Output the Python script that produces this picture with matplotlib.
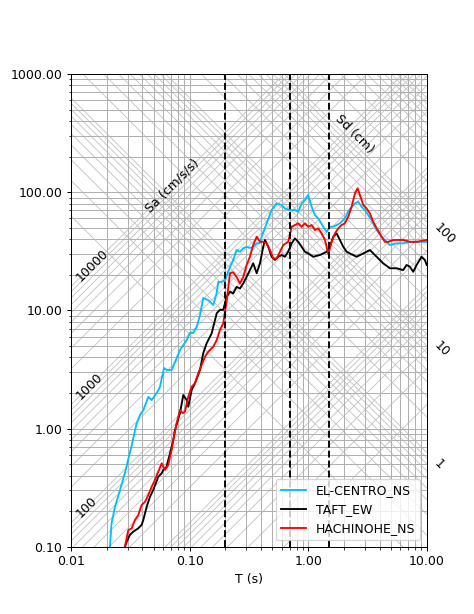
import numpy as np
import matplotlib.pyplot as plt
from matplotlib.ticker import FormatStrFormatter, NullFormatter

# pseudo-velocity response spectra, T (s) vs Sv (cm/s)
t_elcentro = [0.0213, 0.0220, 0.0235, 0.0259, 0.0285, 0.0303, 0.0325, 0.0358, 0.0382, 0.0407,
              0.0449, 0.0479, 0.0528, 0.0562, 0.0608, 0.0641, 0.0707, 0.0754, 0.0830, 0.0885,
              0.0946, 0.1007, 0.1074, 0.1148, 0.1225, 0.1303, 0.1439, 0.1585, 0.1694, 0.1746,
              0.1866, 0.1986, 0.2193, 0.2333, 0.2495, 0.2661, 0.2838, 0.3029, 0.3228, 0.3443,
              0.3681, 0.3926, 0.4055, 0.4467, 0.4920, 0.5420, 0.5980, 0.6370, 0.7031, 0.7740,
              0.8250, 0.8810, 0.9400, 1.002, 1.071, 1.141, 1.217, 1.341, 1.432, 1.527,
              1.629, 1.738, 1.854, 2.042, 2.179, 2.328, 2.483, 2.645, 2.825, 3.013,
              3.213, 3.430, 3.784, 4.170, 4.592, 4.898, 5.572, 6.339, 7.211, 8.222, 10.0]
sv_elcentro = [0.100, 0.159, 0.217, 0.302, 0.421, 0.542, 0.720, 1.11, 1.30, 1.43,
               1.85, 1.74, 2.00, 2.24, 3.25, 3.13, 3.13, 3.66, 4.62, 5.09,
               5.61, 6.43, 6.43, 7.23, 9.14, 12.7, 12.2, 11.1, 14.0, 17.4,
               17.4, 18.0, 23.2, 26.7, 32.4, 31.3, 33.5, 34.5, 33.7, 34.5,
               36.9, 37.2, 42.0, 54.5, 70.6, 80.4, 77.8, 72.9, 70.6, 70.6,
               68.3, 80.4, 85.7, 94.6, 75.2, 64.0, 60.0, 51.0, 46.2, 51.0,
               51.0, 52.7, 54.5, 60.0, 68.3, 75.2, 80.4, 83.0, 75.2, 70.6,
               64.0, 58.1, 47.8, 42.0, 38.0, 35.7, 36.9, 36.9, 38.0, 38.0, 38.0]

t_taft = [0.0285, 0.0295, 0.0314, 0.0335, 0.0369, 0.0394, 0.0407, 0.0435, 0.0464, 0.0494,
          0.0545, 0.0582, 0.0600, 0.0641, 0.0661, 0.0684, 0.0729, 0.0754, 0.0830, 0.0885,
          0.0946, 0.0975, 0.1042, 0.1110, 0.1225, 0.1303, 0.1393, 0.1535, 0.1694, 0.1803,
          0.1923, 0.2056, 0.2193, 0.2333, 0.2495, 0.2661, 0.2838, 0.3029, 0.3228, 0.3443,
          0.3681, 0.3926, 0.4181, 0.4325, 0.4608, 0.4920, 0.5248, 0.5598, 0.5980, 0.6370,
          0.6790, 0.7260, 0.7740, 0.8250, 0.8810, 0.9400, 1.002, 1.104, 1.257, 1.432,
          1.527, 1.629, 1.738, 1.854, 1.977, 2.113, 2.251, 2.566, 2.917, 3.319,
          3.784, 4.295, 4.898, 5.572, 6.339, 6.761, 7.211, 7.691, 8.222, 9.06, 9.66, 10.0]
sv_taft = [0.100, 0.110, 0.126, 0.134, 0.143, 0.153, 0.168, 0.218, 0.265, 0.302,
           0.391, 0.418, 0.446, 0.476, 0.542, 0.617, 0.800, 0.971, 1.35, 1.92,
           1.74, 1.53, 2.12, 2.41, 3.13, 4.33, 5.26, 6.38, 9.44, 10.1,
           10.1, 13.0, 14.4, 13.9, 15.8, 15.3, 16.9, 19.2, 21.9, 25.0,
           20.6, 25.0, 34.5, 39.4, 34.5, 28.4, 26.7, 28.4, 29.4, 28.4,
           31.3, 36.9, 40.6, 38.0, 34.5, 31.3, 30.3, 28.4, 29.4, 31.3,
           34.5, 42.0, 44.8, 39.4, 34.5, 31.3, 30.3, 28.4, 30.3, 32.4,
           28.4, 25.0, 22.7, 22.7, 21.9, 24.2, 23.4, 21.2, 24.2, 28.4, 26.7, 24.2]

t_hachinohe = [0.0285, 0.0304, 0.0325, 0.0346, 0.0369, 0.0394, 0.0421, 0.0449, 0.0479, 0.0510,
               0.0545, 0.0582, 0.0620, 0.0661, 0.0684, 0.0707, 0.0729, 0.0778, 0.0830, 0.0875,
               0.0914, 0.0975, 0.1042, 0.1110, 0.1183, 0.1264, 0.1349, 0.1439, 0.1585, 0.1694,
               0.1803, 0.1923, 0.2056, 0.2193, 0.2333, 0.2495, 0.2661, 0.2838, 0.3029, 0.3228,
               0.3443, 0.3681, 0.3926, 0.4181, 0.4467, 0.4764, 0.5082, 0.5420, 0.5781, 0.6166,
               0.6790, 0.7260, 0.7740, 0.8250, 0.8810, 0.9400, 1.002, 1.071, 1.141, 1.217,
               1.300, 1.386, 1.479, 1.578, 1.683, 1.795, 1.915, 2.042, 2.179, 2.328,
               2.483, 2.614, 2.735, 2.917, 3.112, 3.319, 3.540, 3.784, 4.170, 4.440,
               4.740, 5.224, 5.750, 6.339, 7.211, 8.222, 10.0]
sv_hachinohe = [0.100, 0.138, 0.143, 0.168, 0.185, 0.225, 0.240, 0.274, 0.322, 0.366,
                0.432, 0.508, 0.446, 0.491, 0.577, 0.658, 0.800, 1.11, 1.43, 1.35,
                1.39, 1.86, 2.26, 2.41, 2.93, 3.44, 4.05, 4.46, 4.92, 5.61,
                6.81, 7.76, 12.0, 20.6, 21.0, 19.1, 16.9, 19.2, 24.2, 28.4,
                35.7, 42.0, 38.0, 38.0, 36.9, 32.4, 27.5, 27.5, 31.3, 35.7,
                38.0, 51.0, 52.7, 54.5, 51.0, 54.5, 51.0, 52.7, 47.8, 49.4,
                44.8, 39.4, 30.0, 38.0, 44.8, 49.4, 52.7, 54.5, 61.9, 75.2,
                97.7, 108.0, 94.6, 77.8, 72.9, 66.2, 56.2, 49.4, 42.0, 38.0,
                38.0, 39.4, 39.4, 39.4, 38.0, 38.0, 39.4]

# tripartite grid values
sa_decades = [1, 10, 100, 1000]          # cm/s/s
sd_decades = [0.1, 1, 10, 100]           # cm
sa_labels = [100, 1000, 10000]
sd_labels = [1, 10, 100]
t_marks = [0.2, 0.7, 1.5]

fig = plt.figure(figsize=(474 / 90, 614 / 90), dpi=90)
ax = fig.add_axes([0.1498, 0.1096, 0.7504, 0.7699])
ax.set_xscale('log')
ax.set_yscale('log')

tt = np.array([1e-3, 1e2])
w = 2 * np.pi
sa_vals = [k * d for d in sa_decades for k in range(1, 10)] + [10 * sa_decades[-1]]
sd_vals = [k * d for d in sd_decades for k in range(1, 10)] + [10 * sd_decades[-1]]
for sa in sa_vals:
    ax.plot(tt, sa * tt / w, color='#c4c4c4', lw=0.7, zorder=0)
for sd in sd_vals:
    ax.plot(tt, w * sd / tt, color='#c4c4c4', lw=0.7, zorder=0)

ax.grid(True, which='both', color='#b0b0b0', lw=0.8, zorder=0)
ax.set_axisbelow(True)

ax.plot(t_elcentro, sv_elcentro, color='deepskyblue', lw=1.5, label='EL-CENTRO_NS')
ax.plot(t_taft, sv_taft, color='black', lw=1.5, label='TAFT_EW')
ax.plot(t_hachinohe, sv_hachinohe, color='red', lw=1.5, label='HACHINOHE_NS')

for t in t_marks:
    ax.axvline(t, color='black', ls='--', lw=1.5)

for sa in sa_labels:
    t0 = 0.0115
    ax.text(t0, sa * t0 / w, str(sa), rotation=45, rotation_mode='anchor',
            ha='left', va='center')
for sd in sd_labels:
    t0 = 12.0
    ax.text(t0, w * sd / t0, str(sd), rotation=-45, rotation_mode='anchor',
            ha='left', va='center')
ax.text(0.0711, 113, 'Sa (cm/s/s)', rotation=45, rotation_mode='anchor',
        ha='center', va='center')
ax.text(2.48, 307, 'Sd (cm)', rotation=-45, rotation_mode='anchor',
        ha='center', va='center')

ax.set_xlim(0.01, 10)
ax.set_ylim(0.1, 1000)
ax.xaxis.set_major_formatter(FormatStrFormatter('%.2f'))
ax.yaxis.set_major_formatter(FormatStrFormatter('%.2f'))
ax.xaxis.set_minor_formatter(NullFormatter())
ax.yaxis.set_minor_formatter(NullFormatter())
ax.set_xlabel('T (s)')
ax.legend(loc='lower right')

fig.savefig('out.png', dpi=90)
